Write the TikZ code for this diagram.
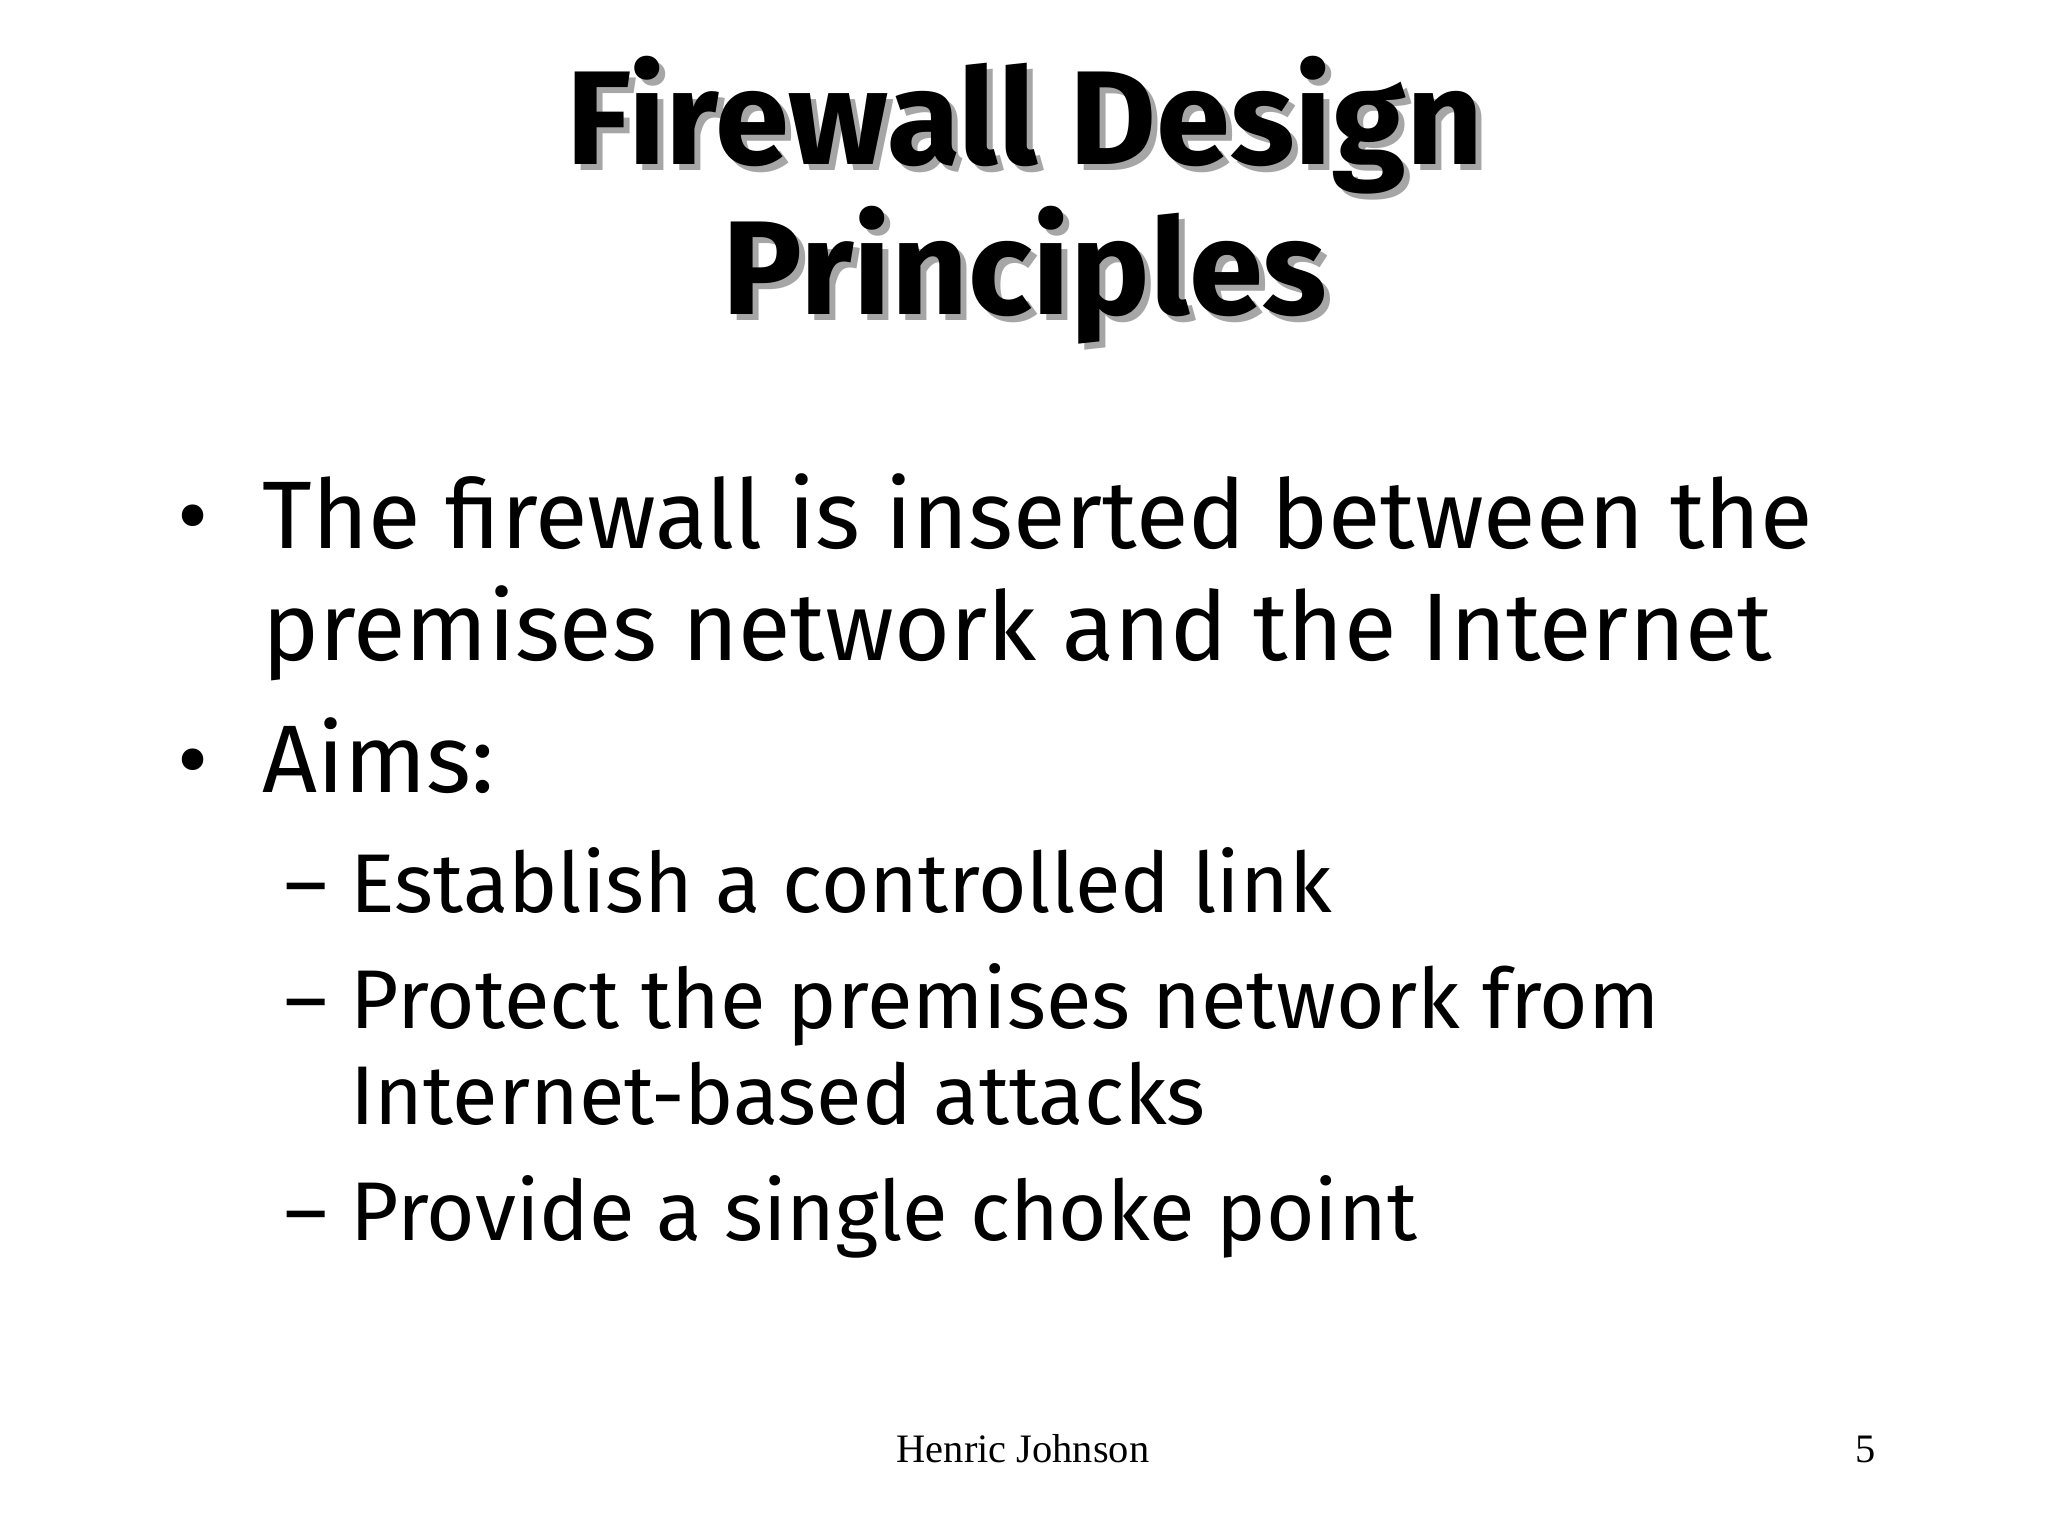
\documentclass[tikz,border=0pt]{standalone}
\usepackage{fontspec}
\setmainfont{Fira Sans}
\newfontfamily\footfont{Liberation Serif}
\begin{document}
\begin{tikzpicture}
\tikzset{
  ttl/.style={anchor=base,font=\fontsize{38}{44}\selectfont\bfseries},
  shd/.style={ttl,text=black!35},
  bul/.style={anchor=base west,font=\fontsize{27.3}{32}\selectfont},
  sub/.style={anchor=base west,font=\fontsize{23.7}{28}\selectfont},
  foot/.style={anchor=base,font=\footfont\fontsize{11.5}{14}\selectfont}
}
\useasboundingbox[fill=white] (0,0) rectangle (20.48,-15.36);
\node[shd] (t1s) at (10.31,-1.71) {Firewall Design};
\node[shd] (t2s) at (10.31,-3.21) {Principles};
\node[ttl] (t1) at (10.25,-1.65) {Firewall Design};
\node[ttl] (t2) at (10.25,-3.15) {Principles};
\node[bul] (b1m) at (1.65,-5.49) {•};
\node[bul] (b1) at (2.5,-5.49) {The firewall is inserted between the};
\node[bul] (b1b) at (2.5,-6.61) {premises network and the Internet};
\node[bul] (b2m) at (1.65,-7.93) {•};
\node[bul] (b2) at (2.5,-7.93) {Aims:};
\node[sub] (s1m) at (2.72,-9.12) {–};
\node[sub] (s1) at (3.38,-9.12) {Establish a controlled link};
\node[sub] (s2m) at (2.72,-10.29) {–};
\node[sub] (s2) at (3.38,-10.29) {Protect the premises network from};
\node[sub] (s2b) at (3.38,-11.24) {Internet-based attacks};
\node[sub] (s3m) at (2.72,-12.40) {–};
\node[sub] (s3) at (3.38,-12.40) {Provide a single choke point};
\node[foot] (f1) at (10.23,-14.62) {Henric Johnson};
\node[foot] (f2) at (18.66,-14.62) {5};
\end{tikzpicture}
\end{document}
